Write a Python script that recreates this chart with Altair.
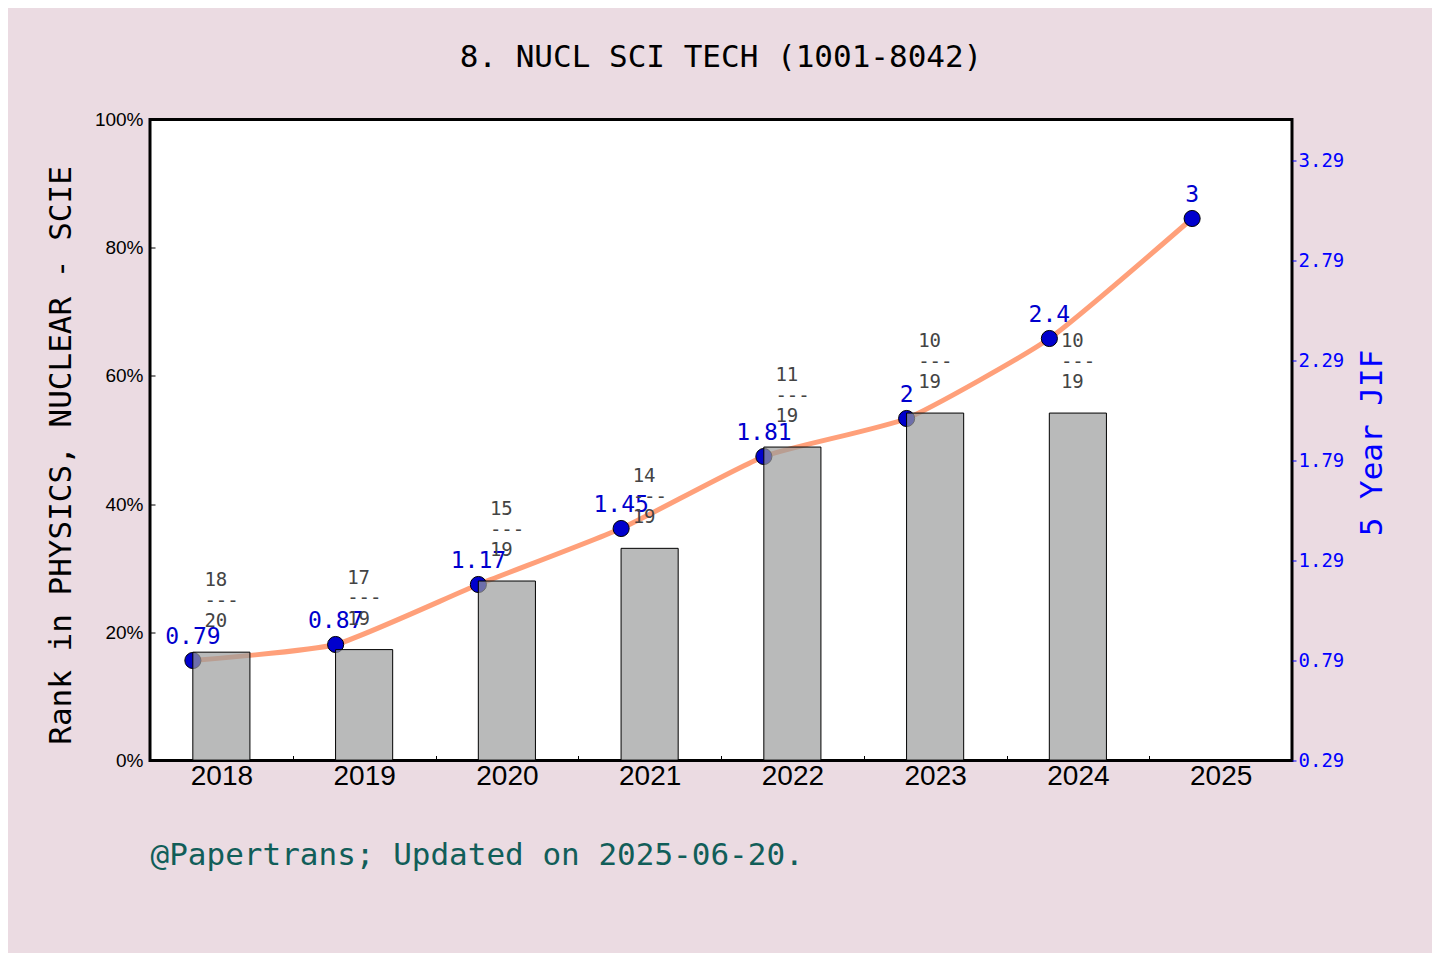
import altair as alt
import pandas as pd

# ---- data ----
years = ["2018", "2019", "2020", "2021", "2022", "2023", "2024", "2025"]
jif_5yr = [0.79, 0.87, 1.17, 1.45, 1.81, 2.0, 2.4, 3.0]
rank_share = [0.169, 0.173, 0.280, 0.331, 0.489, 0.542, 0.542, None]
ranks = [18, 17, 15, 14, 11, 10, 10, None]
totals = [20, 19, 19, 19, 19, 19, 19, None]
left_ticks = [0, 0.2, 0.4, 0.6, 0.8, 1.0]
right_ticks = [0.29, 0.79, 1.29, 1.79, 2.29, 2.79, 3.29]

labels = [f"{r}\n---\n{t}" if r is not None else "" for r, t in zip(ranks, totals)]
df = pd.DataFrame({"year": years, "jif": jif_5yr, "share": rank_share, "rank_label": labels})

MONO = "DejaVu Sans Mono"
SANS = "Liberation Sans"
BG = "#EBDBE2"
W, H = 1142, 641
OFF = -28.5  # point offset from band centre (left edge of bar)

x_enc = alt.X(
    "year:O",
    scale=alt.Scale(paddingInner=0, paddingOuter=0),
    axis=alt.Axis(
        orient="bottom", offset=-5, tickSize=5, tickColor="black", tickBand="extent",
        labelPadding=2, labelFont=SANS, labelFontSize=28, labelColor="black", labelAngle=0,
        domain=False, grid=False,
        title="@Papertrans; Updated on 2025-06-20.", titleFont=MONO, titleFontSize=31,
        titleFontWeight="normal", titleColor="#115E59", titleX=0, titleY=99.5,
        titleAlign="left", titleBaseline="middle", titleAngle=0,
    ),
)

y_right = alt.Y(
    "jif:Q",
    scale=alt.Scale(domain=[0.29, 3.495], nice=False, zero=False),
    axis=alt.Axis(
        orient="right", values=right_ticks, format=".2f", labelColor="blue", tickColor="blue",
        tickSize=4, labelPadding=2, labelFont=MONO, labelFontSize=19, domain=False, grid=False,
        title="5 Year JIF", titleColor="blue", titleFont=MONO, titleFontSize=31,
        titleFontWeight="normal", titleAngle=270, titleX=80.5, titleY=323,
        titleAlign="center", titleBaseline="middle",
    ),
)

y_left = alt.Y(
    "share:Q",
    scale=alt.Scale(domain=[0, 1], nice=False, zero=True),
    axis=alt.Axis(
        orient="left", values=left_ticks, format=".0%", offset=-5, tickSize=5, tickColor="black",
        labelPadding=7, labelFont=SANS, labelFontSize=19, labelColor="black",
        domain=False, grid=False,
        title="Rank in PHYSICS, NUCLEAR - SCIE", titleColor="black", titleFont=MONO,
        titleFontSize=31, titleFontWeight="normal", titleAngle=270, titleX=-94, titleY=335.5,
        titleAlign="center", titleBaseline="middle",
    ),
)

base = alt.Chart(df)

line = base.mark_line(color="#FFA07A", strokeWidth=5, interpolate="cardinal", tension=0.5,
                      xOffset=OFF).encode(x=x_enc, y=y_right)
points = base.mark_circle(size=260, color="#0000CD", opacity=1, stroke="black", strokeWidth=1,
                          xOffset=OFF).encode(x="year:O", y="jif:Q")
jif_text = base.mark_text(font=MONO, fontSize=23, color="#0000CD", baseline="alphabetic",
                          align="center", dy=-17, xOffset=OFF).encode(
    x="year:O", y="jif:Q", text=alt.Text("jif:Q", format="~g")
)
right_group = alt.layer(line, points, jif_text)

bars = base.mark_bar(width=alt.RelativeBandSize(0.4), fill="#9B9C9D", fillOpacity=0.7,
                     stroke="black", strokeWidth=1).encode(x="year:O", y=y_left)
rank_text = base.mark_text(font=MONO, fontSize=19, color="#444444", align="left", dx=-17,
                           baseline="bottom", dy=-62, lineBreak="\n", lineHeight=20.5).encode(
    x="year:O", y="share:Q", text="rank_label:N"
)
left_group = alt.layer(bars, rank_text)

chart = (
    alt.layer(right_group, left_group)
    .resolve_scale(y="independent")
    .properties(
        width=W, height=H,
        title=alt.TitleParams("8. NUCL SCI TECH (1001-8042)", font=MONO, fontSize=31,
                              fontWeight="normal", color="black", anchor="middle",
                              frame="group", baseline="alphabetic", offset=12.5),
        padding={"left": 142, "top": 111.5, "right": 140, "bottom": 192},
        autosize=alt.AutoSizeParams(type="none"),
        background=BG,
    )
    .configure_view(stroke="black", strokeWidth=3, fill="white")
)

chart.save("out.html", embed_options={"renderer": "svg", "actions": False})
